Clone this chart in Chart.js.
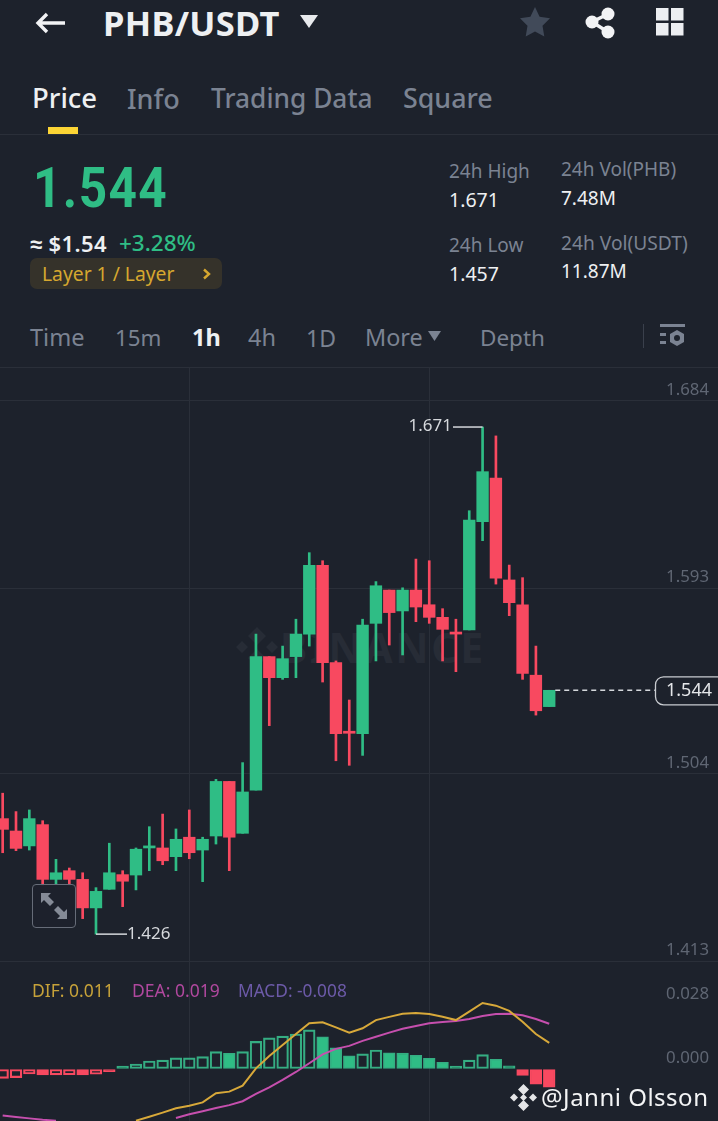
<!DOCTYPE html>
<html><head><meta charset="utf-8">
<style>
html,body{margin:0;padding:0;background:#1d222c;}
#page{position:relative;width:718px;height:1121px;overflow:hidden;background:#1d222c;font-family:"Noto Sans",sans-serif;}
.t{position:absolute;white-space:nowrap;line-height:1;transform:translateY(-50%);}
.g{color:#7b8392;}.w{color:#eef0f2;}
canvas{position:absolute;left:0;display:block;}
.rule{position:absolute;background:#2a2f39;}
svg{position:absolute;overflow:visible;}
</style></head><body>
<div id="page">
  <div class="t" style="left:236px;top:647px;color:#272c36;font-weight:700;font-size:41px;letter-spacing:2.6px;padding-left:44px;">BINANCE</div>
  <svg style="left:236px;top:625px" width="42" height="42"><path d="M21 2 L30 11 L21 20 L12 11Z M6 16 L12 22 L6 28 L0 22Z M36 16 L42 22 L36 28 L30 22Z M21 24 L30 33 L21 42 L12 33Z" fill="#272c36"/></svg>

  <canvas id="price" width="718" height="596" style="top:367px"></canvas>
  <canvas id="macd" width="718" height="160" style="top:961px"></canvas>

  <svg style="left:35px;top:12px" width="32" height="22"><path d="M30 11 H3 M12 2 L3 11 L12 20" fill="none" stroke="#f2f3f5" stroke-width="3.4"/></svg>
  <div class="t w" style="left:103px;top:23px;font-size:34.5px;font-weight:700;letter-spacing:.3px;">PHB/USDT</div>
  <svg style="left:300px;top:15px" width="18" height="13"><path d="M0 0H18L9 13Z" fill="#e8eaed"/></svg>
  <svg style="left:520px;top:7px" width="30" height="30"><path d="M15 0 L19.6 9.7 L30 11.3 L22.5 18.8 L24.3 29.5 L15 24.4 L5.7 29.5 L7.5 18.8 L0 11.3 L10.4 9.7Z" fill="#414a59"/></svg>
  <svg style="left:585px;top:7px" width="30" height="30"><g fill="#f2f3f5"><circle cx="23" cy="7" r="6.5"/><circle cx="7" cy="15" r="6.5"/><circle cx="23" cy="25" r="6.5"/></g><path d="M23 7L7 15L23 25" stroke="#f2f3f5" stroke-width="3.5" fill="none"/></svg>
  <svg style="left:656px;top:8px" width="28" height="28"><g fill="#eceef1"><rect width="12.5" height="12.5"/><rect x="15" width="12.5" height="12.5"/><rect y="15" width="12.5" height="12.5"/><rect x="15" y="15" width="12.5" height="12.5"/></g></svg>

  <div class="t w" style="left:32px;top:98px;font-size:27.5px;font-weight:500;">Price</div>
  <div class="t g" style="left:127px;top:98px;font-size:27px;font-weight:500;">Info</div>
  <div class="t g" style="left:211px;top:98px;font-size:26.3px;font-weight:500;">Trading Data</div>
  <div class="t g" style="left:403px;top:98px;font-size:26.8px;font-weight:500;">Square</div>
  <div style="position:absolute;left:48px;top:127px;width:30px;height:7px;background:#fcd535"></div>
  <div class="rule" style="left:0;top:134px;width:718px;height:1px"></div>

  <div class="t" style="left:33px;top:188px;color:#2fbd85;font-family:Roboto;font-size:56px;font-weight:700;letter-spacing:1.6px;transform:translateY(-50%) scaleX(.885);transform-origin:left center;">1.544</div>
  <div class="t w" style="left:30px;top:243px;font-size:22px;font-weight:600;letter-spacing:.4px;">≈ $1.54</div>
  <div class="t" style="left:119px;top:243px;color:#2fbd85;font-size:22.5px;font-weight:500;">+3.28%</div>
  <div style="position:absolute;left:30px;top:258px;width:192px;height:31px;border-radius:7px;background:#35322a"></div>
  <div class="t" style="left:42px;top:274px;color:#d6a72f;font-size:19.3px;">Layer 1 / Layer</div>
  <svg style="left:202px;top:268px" width="9" height="12"><path d="M2 1.5L7 6L2 10.5" fill="none" stroke="#d6a72f" stroke-width="2.4"/></svg>

  <div class="t g" style="left:449px;top:171px;font-size:19px;">24h High</div>
  <div class="t w" style="left:449px;top:200px;font-size:19.5px;">1.671</div>
  <div class="t g" style="left:449px;top:245px;font-size:19px;">24h Low</div>
  <div class="t w" style="left:449px;top:274px;font-size:19.5px;">1.457</div>
  <div class="t g" style="left:561px;top:169px;font-size:19px;">24h Vol(PHB)</div>
  <div class="t w" style="left:561px;top:198px;font-size:19px;">7.48M</div>
  <div class="t g" style="left:561px;top:243px;font-size:19.2px;">24h Vol(USDT)</div>
  <div class="t w" style="left:561px;top:271px;font-size:19px;">11.87M</div>

  <div class="t g" style="left:30px;top:338px;font-size:23.6px;">Time</div>
  <div class="t g" style="left:115px;top:338px;font-size:22.3px;">15m</div>
  <div class="t w" style="left:192px;top:338px;font-size:23.5px;font-weight:700;">1h</div>
  <div class="t g" style="left:248px;top:338px;font-size:23.5px;">4h</div>
  <div class="t g" style="left:306px;top:338px;font-size:23px;">1D</div>
  <div class="t g" style="left:365px;top:338px;font-size:23.4px;">More</div>
  <svg style="left:428px;top:331px" width="13" height="10"><path d="M0 0H13L6.5 10Z" fill="#7b8392"/></svg>
  <div class="t g" style="left:480px;top:338px;font-size:22.5px;">Depth</div>
  <div class="rule" style="left:643px;top:324px;width:1px;height:24px;background:#3a404c"></div>
  <svg style="left:660px;top:324px" width="26" height="26"><g fill="#7b8392"><rect y="0" width="25" height="3"/><rect y="9" width="6" height="3"/><rect y="17" width="6" height="3"/><path d="M17 6L24 10V18L17 22L10 18V10Z"/></g><circle cx="17" cy="14" r="3" fill="#1d222c"/></svg>
  <div class="rule" style="left:0;top:367px;width:718px;height:1px"></div>

  <div style="position:absolute;left:32px;top:884px;width:42px;height:42px;border:1.5px solid #666c78;border-radius:4px;background:rgba(29,34,44,.86)"></div>
  <svg style="left:41px;top:893px" width="26" height="26"><g fill="#858b97"><path d="M0 0H10L7 3L13 9L9 13L3 7L0 10Z"/><path d="M26 26H16L19 23L13 17L17 13L23 19L26 16Z"/></g></svg>

  <div class="t" style="left:32px;top:991px;color:#c6a23a;font-size:17.5px;">DIF: 0.011</div>
  <div class="t" style="left:132px;top:991px;color:#b0489e;font-size:17.5px;">DEA: 0.019</div>
  <div class="t" style="left:238px;top:991px;color:#6c5aa8;font-size:17.3px;">MACD: -0.008</div>

  <svg style="left:510px;top:1084px" width="27" height="27"><path d="M13.5 0L19 5.5L13.5 11L8 5.5Z M4 9.5L8 13.5L4 17.5L0 13.5Z M23 9.5L27 13.5L23 17.5L19 13.5Z M13.5 10L17 13.5L13.5 17L10 13.5Z M13.5 16L19 21.5L13.5 27L8 21.5Z" fill="#e4e5e7"/></svg>
  <div class="t" style="left:541px;top:1097px;color:#f3f4f5;font-size:24px;letter-spacing:.5px;">@Janni Olsson</div>
</div>

<script src="https://cdn.jsdelivr.net/npm/chart.js@4"></script>
<script>
// Candle data (index 0 = leftmost candle)
const opens  = [1.4819,1.4759,1.4687,1.4790,1.4525,1.4567,1.4525,1.4387,1.4477,1.4548,1.4546,1.4677,1.4677,1.4635,1.4729,1.4667,1.4735,1.4999,1.4748,1.4957,1.5603,1.5501,1.5603,1.5712,1.6045,1.5574,1.5242,1.5230,1.5764,1.5925,1.5824,1.5925,1.5854,1.5793,1.5722,1.5732,1.6256,1.6467,1.5974,1.5854,1.5513,1.5361];
const highs  = [1.4942,1.4853,1.4861,1.4809,1.4622,1.4580,1.4557,1.4485,1.4700,1.4567,1.4677,1.4780,1.4841,1.4769,1.4861,1.4729,1.5009,1.4999,1.5090,1.5712,1.5603,1.5654,1.5784,1.6106,1.6067,1.5582,1.5393,1.5784,1.5966,1.5925,1.5936,1.6075,1.6067,1.5835,1.5784,1.6309,1.6714,1.6671,1.6046,1.5985,1.5654,1.5440];
const lows   = [1.4654,1.4664,1.4667,1.4498,1.4503,1.4498,1.4335,1.4260,1.4477,1.4393,1.4474,1.4567,1.4596,1.4567,1.4625,1.4514,1.4696,1.4567,1.4748,1.4957,1.5269,1.5493,1.5501,1.5654,1.5480,1.5099,1.5077,1.5125,1.5582,1.5659,1.5611,1.5772,1.5764,1.5582,1.5530,1.5732,1.6164,1.5954,1.5801,1.5493,1.5320,1.5361];
const closes = [1.4767,1.4675,1.4819,1.4525,1.4557,1.4525,1.4387,1.4467,1.4557,1.4516,1.4671,1.4687,1.4615,1.4719,1.4654,1.4719,1.4999,1.4729,1.4948,1.5603,1.5501,1.5593,1.5712,1.6045,1.5574,1.5230,1.5232,1.5755,1.5946,1.5816,1.5925,1.5843,1.5793,1.5735,1.5712,1.6264,1.6498,1.5983,1.5864,1.5522,1.5341,1.5440];
// MACD panel
const difValues  = [null,null,null,null,null,null,null,null,null,null,-0.0226,-0.0209,-0.0191,-0.0172,-0.0161,-0.0146,-0.0106,-0.0099,-0.0073,0.0003,0.0057,0.0105,0.0153,0.0200,0.0204,0.0182,0.0159,0.0178,0.0214,0.0228,0.0242,0.0245,0.0241,0.0229,0.0214,0.0251,0.0289,0.0277,0.0254,0.0207,0.0153,0.0114];
const deaValues  = [-0.0203,-0.0210,-0.0216,-0.0222,-0.0226,null,null,null,null,null,null,null,null,-0.0214,-0.0198,-0.0185,-0.0171,-0.0158,-0.0141,-0.0109,-0.0080,-0.0048,-0.0013,0.0025,0.0064,0.0088,0.0101,0.0123,0.0141,0.0159,0.0176,0.0188,0.0200,0.0206,0.0210,0.0219,0.0232,0.0241,0.0242,0.0235,0.0219,0.0198];
const macdValues = [-0.0041,-0.0038,-0.0022,-0.0026,-0.0026,-0.0025,-0.0026,-0.0023,-0.0012,0.0013,0.0022,0.0035,0.0039,0.0049,0.0049,0.0054,0.0076,0.0069,0.0076,0.0121,0.0136,0.0144,0.0153,0.0171,0.0141,0.0093,0.0058,0.0066,0.0083,0.0071,0.0070,0.0060,0.0047,0.0029,0.0013,0.0039,0.0063,0.0042,0.0014,-0.0028,-0.0066,-0.0080];
// Axis ticks
const priceTicks = [1.684,1.5934,1.5036,1.413];
const macdTicks  = [0.028,0];
const crossTicks = [14,32];

const GREEN='#2fbd85', RED='#f84960', GRID='#2a2f39', TICK='#5f6673';
const up = i => closes[i] >= opens[i];
const candleColor = c => up(c.dataIndex) ? GREEN : RED;

const xScale = {type:'linear',min:-0.2,max:53.66,offset:false,
  grid:{color:GRID,offset:false,drawTicks:false,lineWidth:1},border:{display:false},
  ticks:{display:false},
  afterBuildTicks:s=>{s.ticks=crossTicks.map(v=>({value:v}));},
  afterFit:s=>{s.height=0;s.paddingLeft=0;s.paddingRight=0;}};

function yScale(min,max,vals,grid){return {type:'linear',position:'right',min,max,
  grid:{color:grid,drawTicks:false},border:{display:false},
  afterBuildTicks:s=>{s.ticks=vals.map(v=>({value:v}));},
  afterFit:s=>{s.width=0;s.paddingTop=0;s.paddingBottom=0;},
  ticks:{mirror:true,padding:-9,labelOffset:-11,autoSkip:false,color:TICK,
    font:{family:'"Noto Sans"',size:16.8},callback:v=>v.toFixed(3)}};}

const extrema={id:'extrema',afterDatasetsDraw(ch){
  const {ctx,scales:{x,y}}=ch;
  ctx.save();
  ctx.font='17px "Noto Sans"';ctx.textBaseline='middle';ctx.fillStyle='#d5d8dc';
  ctx.strokeStyle='#d5d8dc';ctx.lineWidth=1.5;
  const hi=highs.indexOf(Math.max(...highs)), lo=lows.indexOf(Math.min(...lows));
  const hy=y.getPixelForValue(highs[hi]), hx=x.getPixelForValue(hi);
  ctx.beginPath();ctx.moveTo(hx,hy);ctx.lineTo(453,hy);ctx.stroke();
  ctx.textAlign='right';ctx.fillText(highs[hi].toFixed(3),452,hy-1);
  const ly=y.getPixelForValue(lows[lo]), lx=x.getPixelForValue(lo);
  ctx.beginPath();ctx.moveTo(lx,ly);ctx.lineTo(127,ly);ctx.stroke();
  ctx.textAlign='left';ctx.fillText(lows[lo].toFixed(3),127,ly);
  // last price
  const n=closes.length-1, py=y.getPixelForValue(closes[n]), px=x.getPixelForValue(n)+6;
  ctx.setLineDash([5,4]);ctx.beginPath();ctx.moveTo(px,py);ctx.lineTo(655,py);ctx.stroke();ctx.setLineDash([]);
  ctx.fillStyle='#1d222c';ctx.strokeStyle='#c9ccd1';ctx.lineWidth=1.3;
  ctx.beginPath();ctx.roundRect(655.5,py-13.5,70,28,8);ctx.fill();ctx.stroke();
  ctx.font='18px "Noto Sans"';ctx.fillStyle='#e4e6e9';ctx.textAlign='left';ctx.fillText(closes[n].toFixed(3),666,py+0.5);
  ctx.restore();
}};

new Chart(document.getElementById('price'),{type:'bar',
  data:{datasets:[
    {label:'High-Low',grouped:false,barThickness:2,borderSkipped:false,backgroundColor:candleColor,order:2,
     data:closes.map((_,i)=>({x:i,y:[lows[i],highs[i]]}))},
    {label:'Open-Close',grouped:false,barThickness:11.7,borderSkipped:false,backgroundColor:candleColor,order:1,
     data:closes.map((_,i)=>({x:i,y:[opens[i],closes[i]]}))}
  ]},
  options:{responsive:false,animation:false,layout:{padding:{bottom:2}},
    plugins:{legend:{display:false},tooltip:{enabled:false}},
    scales:{x:xScale,y:yScale(1.413,1.70045,priceTicks,GRID)}},
  plugins:[extrema]});

new Chart(document.getElementById('macd'),{type:'bar',
  data:{datasets:[
    {type:'line',label:'DIF',data:difValues.map((v,i)=>({x:i,y:v})),borderColor:'#d8a93a',borderWidth:2,pointRadius:0,tension:0,order:1},
    {type:'line',label:'DEA',data:deaValues.map((v,i)=>({x:i,y:v})),borderColor:'#c64fae',borderWidth:2,pointRadius:0,tension:0,order:1},
    {label:'MACD',grouped:false,barThickness:11.7,borderSkipped:false,order:2,
     data:macdValues.map((v,i)=>({x:i,y:v})),
     backgroundColor:c=>{const i=c.dataIndex,v=macdValues[i];
        const hollow=i===0||v>=macdValues[i-1];
        return hollow&&Math.abs(v)>0.0015?'rgba(0,0,0,0)':(v>=0?GREEN:RED);},
     borderColor:c=>macdValues[c.dataIndex]>=0?'#35ad82':RED,
     borderWidth:1.5}
  ]},
  options:{responsive:false,animation:false,
    plugins:{legend:{display:false},tooltip:{enabled:false}},
    scales:{x:xScale,y:yScale(-0.02275,0.04725,macdTicks,'rgba(0,0,0,0)')}}});
</script>
</body></html>
